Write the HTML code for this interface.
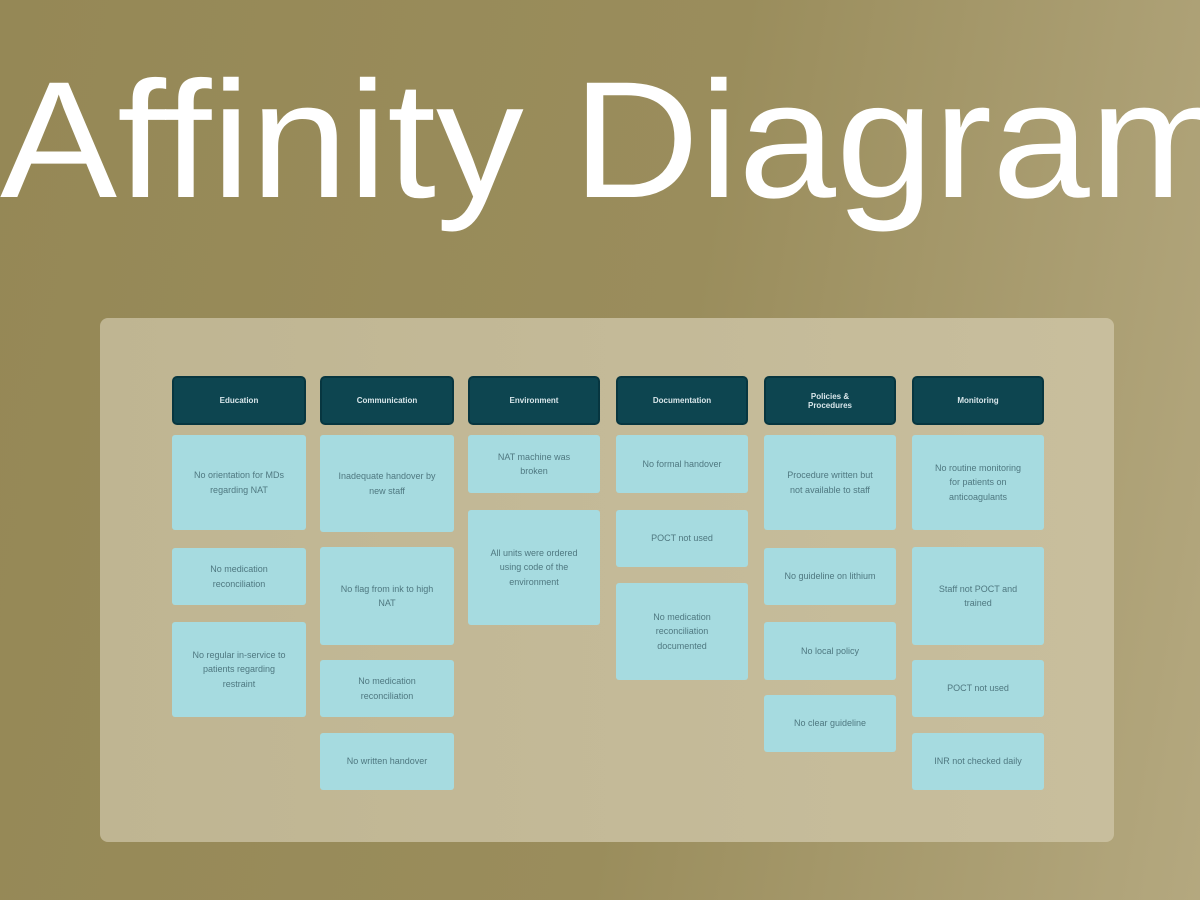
<!DOCTYPE html>
<html><head><meta charset="utf-8"><style>
html,body{margin:0;padding:0}
body{width:1200px;height:900px;overflow:hidden;position:relative;background:linear-gradient(100deg,#958856 0%,#9a8d5c 55%,#b4a87f 100%);font-family:"Liberation Sans",sans-serif}
.panel{position:absolute;left:100px;top:318px;width:1014px;height:524px;background:linear-gradient(90deg,#bfb592,#c8be9d);border-radius:8px}
.h{position:absolute;height:49px;background:#0d4550;border-radius:5px;color:#d8e6ea;font-size:8px;font-weight:bold;display:flex;align-items:center;justify-content:center;text-align:center;box-sizing:border-box;border:2px solid #073640}
.c{position:absolute;background:#a6dbe0;color:#4f7880;font-size:9px;display:flex;align-items:center;justify-content:center;text-align:center;line-height:1.6;padding:0 18px;box-sizing:border-box;border-radius:3px}
svg{position:absolute;left:0;top:0}
</style></head><body>
<svg width="1200" height="260"><text x="0" y="197" font-family="Liberation Sans, sans-serif" font-size="166" fill="#ffffff" textLength="1236" lengthAdjust="spacingAndGlyphs">Affinity Diagram</text></svg>
<div class="panel"></div>
<div class="h" style="left:172px;top:376px;width:134px">Education</div>
<div class="h" style="left:320px;top:376px;width:134px">Communication</div>
<div class="h" style="left:468px;top:376px;width:132px">Environment</div>
<div class="h" style="left:616px;top:376px;width:132px">Documentation</div>
<div class="h" style="left:764px;top:376px;width:132px">Policies &amp;<br>Procedures</div>
<div class="h" style="left:912px;top:376px;width:132px">Monitoring</div>

<div class="c" style="left:172px;top:435px;width:134px;height:95px">No orientation for MDs regarding NAT</div>
<div class="c" style="left:172px;top:548px;width:134px;height:57px">No medication reconciliation</div>
<div class="c" style="left:172px;top:622px;width:134px;height:95px">No regular in-service to patients regarding restraint</div>

<div class="c" style="left:320px;top:435px;width:134px;height:97px">Inadequate handover by new staff</div>
<div class="c" style="left:320px;top:547px;width:134px;height:98px">No flag from ink to high NAT</div>
<div class="c" style="left:320px;top:660px;width:134px;height:57px">No medication reconciliation</div>
<div class="c" style="left:320px;top:733px;width:134px;height:57px">No written handover</div>

<div class="c" style="left:468px;top:435px;width:132px;height:58px">NAT machine was broken</div>
<div class="c" style="left:468px;top:510px;width:132px;height:115px">All units were ordered using code of the environment</div>

<div class="c" style="left:616px;top:435px;width:132px;height:58px">No formal handover</div>
<div class="c" style="left:616px;top:510px;width:132px;height:57px">POCT not used</div>
<div class="c" style="left:616px;top:583px;width:132px;height:97px">No medication reconciliation documented</div>

<div class="c" style="left:764px;top:435px;width:132px;height:95px">Procedure written but not available to staff</div>
<div class="c" style="left:764px;top:548px;width:132px;height:57px">No guideline on lithium</div>
<div class="c" style="left:764px;top:622px;width:132px;height:58px">No local policy</div>
<div class="c" style="left:764px;top:695px;width:132px;height:57px">No clear guideline</div>

<div class="c" style="left:912px;top:435px;width:132px;height:95px">No routine monitoring for patients on anticoagulants</div>
<div class="c" style="left:912px;top:547px;width:132px;height:98px">Staff not POCT and trained</div>
<div class="c" style="left:912px;top:660px;width:132px;height:57px">POCT not used</div>
<div class="c" style="left:912px;top:733px;width:132px;height:57px">INR not checked daily</div>
</body></html>
